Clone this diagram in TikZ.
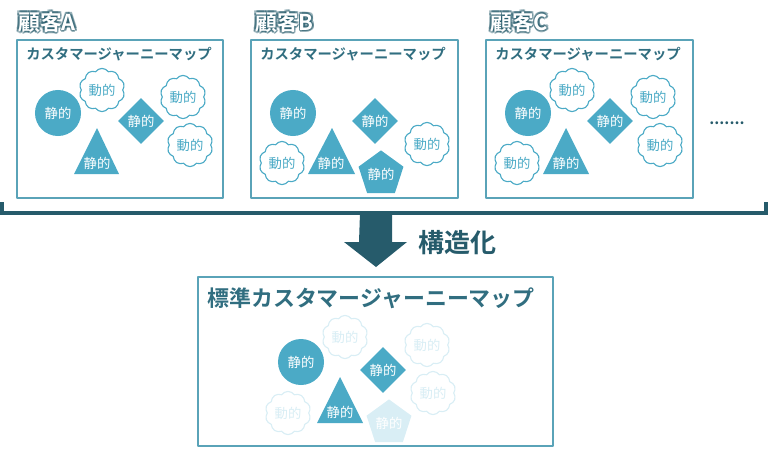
\documentclass[tikz,border=0pt]{standalone}
\usepackage{fontspec}
\setmainfont{Noto Sans CJK JP}[BoldFont={* Bold}]
\usetikzlibrary{shapes.geometric,shapes.symbols}
\definecolor{tealshape}{HTML}{4BAAC6}
\definecolor{tealframe}{HTML}{5AA3B8}
\definecolor{tealtitle}{HTML}{316E80}
\definecolor{tealdark}{HTML}{265B6B}
\definecolor{tealfaint}{HTML}{D9EEF5}
\tikzset{
  mapbox/.style={draw=tealframe,line width=1.4pt},
  maptitle/.style={font=\bfseries\fontsize{10.2}{12}\selectfont,text=tealtitle,anchor=west,inner sep=0pt},
  custlabel/.style={font=\bfseries\fontsize{15.5}{18}\selectfont,anchor=west,inner sep=0pt},
  static/.style={fill=tealshape,text=white,font=\fontsize{9.5}{11}\selectfont,inner sep=0pt},
  circstatic/.style={static,circle,minimum size=1.15cm},
  diamstatic/.style={static,diamond,minimum size=1.15cm},
  pentstatic/.style={static,regular polygon,regular polygon sides=5,minimum size=1.18cm},
  trilabel/.style={text=white,font=\fontsize{9.5}{11}\selectfont,inner sep=0pt},
  clouddyn/.style={cloud,cloud puffs=10,cloud puff arc=110,aspect=1.05,draw=tealshape,fill=white,line width=0.8pt,text=tealshape,font=\fontsize{9.5}{11}\selectfont,inner sep=0pt,minimum width=1.14cm,minimum height=1.08cm},
  cloudfaint/.style={clouddyn,draw=tealfaint,text=tealfaint},
  pentfaint/.style={pentstatic,fill=tealfaint},
}

\begin{document}
\begin{tikzpicture}[line cap=round,line join=round,x=0.025cm,y=-0.025cm]
  \useasboundingbox (0,0) rectangle (768,448);
  % customer labels with glow
  \foreach \lx/\lname/\ltext in {18/labA/顧客A,255/labB/顧客B,490/labC/顧客C}{
    \foreach \dx/\dy in {-1.3/0,1.3/0,0/-1.3,0/1.3,-1/-1,1/1,-1/1,1/-1}
      \node[custlabel,text=tealdark,opacity=0.45,xshift=\dx pt,yshift=\dy pt] at (\lx,22) {\ltext};
    \node[custlabel,text=white] (\lname) at (\lx,22) {\ltext};
  }
  % customer A
  \draw [mapbox] (17,40) rectangle (223,198);
  \node [maptitle] (tA) at (26,54) {カスタマージャーニーマップ};
  \node [circstatic] (sA1) at (58,113) {静的};
  \node [diamstatic] (sA2) at (141,121) {静的};
  \fill [tealshape] (97,128) -- (119,174) -- (74,174) -- cycle;
  \node [trilabel] (sA3) at (97,163) {静的};
  \node [clouddyn] (dA1) at (102,90) {動的};
  \node [clouddyn] (dA2) at (183,97) {動的};
  \node [clouddyn] (dA3) at (190,145) {動的};
  % customer B
  \draw [mapbox] (251,40) rectangle (458,198);
  \node [maptitle] (tB) at (260,54) {カスタマージャーニーマップ};
  \node [circstatic] (sB1) at (293,113) {静的};
  \node [diamstatic] (sB2) at (375,121) {静的};
  \fill [tealshape] (332,128) -- (355,174) -- (308,174) -- cycle;
  \node [trilabel] (sB3) at (331,163) {静的};
  \node [pentstatic] (sB4) at (381,174) {静的};
  \node [clouddyn] (dB1) at (282,163) {動的};
  \node [clouddyn] (dB2) at (427,144) {動的};
  % customer C
  \draw [mapbox] (486,40) rectangle (693,198);
  \node [maptitle] (tC) at (495,54) {カスタマージャーニーマップ};
  \node [circstatic] (sC1) at (528,113) {静的};
  \node [diamstatic] (sC2) at (610,121) {静的};
  \fill [tealshape] (566,128) -- (589,174) -- (543,174) -- cycle;
  \node [trilabel] (sC3) at (566,163) {静的};
  \node [clouddyn] (dC1) at (572,90) {動的};
  \node [clouddyn] (dC2) at (653,97) {動的};
  \node [clouddyn] (dC3) at (660,145) {動的};
  \node [clouddyn] (dC4) at (517,163) {動的};
  \node [text=tealdark,font=\bfseries\fontsize{11}{12}\selectfont,inner sep=0pt] (more) at (727,123) {.......};
  % bracket and arrow
  \draw [tealdark,line width=2.9pt,line cap=butt,line join=miter] (2,202) -- (2,213) -- (766,213) -- (766,202);
  \coordinate (atop) at (376,213);
  \coordinate (atip) at (376,267);
  \fill [tealdark] (atop) ++(-16,0) -- ++(32,0) -- ++(0,29) -- ++(15,0) -- (atip) -- ++(-32,-25) -- ++(15,0) -- cycle;
  \node [text=tealdark,font=\bfseries\fontsize{18.5}{20}\selectfont,anchor=west,inner sep=0pt] (kozoka) at (418,243) {構造化};
  % standard map
  \draw [mapbox] (198,277) rectangle (553,446);
  \node [maptitle,font=\bfseries\fontsize{15.6}{18}\selectfont] (tStd) at (207,298) {標準カスタマージャーニーマップ};
  \node [cloudfaint] (dS1) at (345,337) {動的};
  \node [cloudfaint] (dS2) at (427,345) {動的};
  \node [cloudfaint] (dS3) at (433,393) {動的};
  \node [cloudfaint] (dS4) at (288,413) {動的};
  \node [pentfaint] (sS4) at (389,423) {静的};
  \node [circstatic] (sS1) at (301,362) {静的};
  \node [diamstatic] (sS2) at (383,370) {静的};
  \fill [tealshape] (340,377) -- (363,423) -- (317,423) -- cycle;
  \node [trilabel] (sS3) at (340,412) {静的};
\end{tikzpicture}
\end{document}
